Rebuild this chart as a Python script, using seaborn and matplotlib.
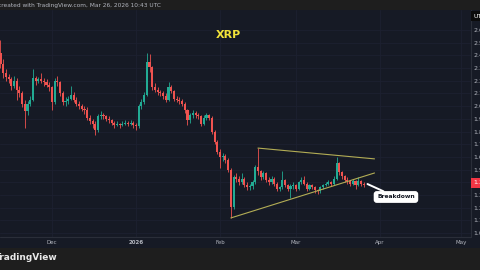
import numpy as np
import pandas as pd
import seaborn as sns
import matplotlib.pyplot as plt

# daily XRP candles, Nov 12 2025 .. Mar 26 2026
first_open = 2.42
closes = [2.33, 2.26, 2.23, 2.21, 2.16, 2.20, 2.13, 2.10, 2.02, 1.96,
          2.02, 2.05, 2.22, 2.20, 2.21, 2.20, 2.19, 2.17, 2.15, 2.03,
          2.20, 2.19, 2.10, 2.03, 2.04, 2.06, 2.09, 2.05, 2.02, 2.00,
          1.98, 1.97, 1.91, 1.88, 1.86, 1.81, 1.92, 1.93, 1.92, 1.90,
          1.89, 1.87, 1.85, 1.86, 1.85, 1.86, 1.87, 1.86, 1.87, 1.85,
          1.84, 2.00, 2.03, 2.09, 2.35, 2.31, 2.15, 2.13, 2.11, 2.10,
          2.08, 2.05, 2.15, 2.12, 2.06, 2.05, 2.04, 2.02, 1.97, 1.89,
          1.93, 1.95, 1.93, 1.92, 1.86, 1.91, 1.93, 1.91, 1.80, 1.72,
          1.64, 1.60, 1.61, 1.58, 1.50, 1.21, 1.44, 1.43, 1.40, 1.43,
          1.38, 1.36, 1.37, 1.40, 1.52, 1.49, 1.44, 1.47, 1.42, 1.40,
          1.43, 1.39, 1.35, 1.36, 1.42, 1.38, 1.35, 1.37, 1.38, 1.35,
          1.40, 1.42, 1.39, 1.35, 1.38, 1.36, 1.34, 1.33, 1.36, 1.38,
          1.39, 1.40, 1.39, 1.43, 1.55, 1.48, 1.45, 1.42, 1.41, 1.39,
          1.41, 1.38, 1.41, 1.39, 1.38]
highs = [2.52, 2.37, 2.29, 2.25, 2.23, 2.24, 2.22, 2.16, 2.12, 2.05,
         2.04, 2.08, 2.29, 2.24, 2.23, 2.26, 2.22, 2.21, 2.19, 2.16,
         2.22, 2.24, 2.20, 2.12, 2.07, 2.08, 2.16, 2.11, 2.07, 2.04,
         2.02, 2.00, 1.99, 1.93, 1.90, 1.88, 1.94, 1.96, 1.95, 1.93,
         1.92, 1.90, 1.88, 1.88, 1.87, 1.88, 1.89, 1.88, 1.89, 1.88,
         1.87, 2.02, 2.06, 2.11, 2.42, 2.41, 2.32, 2.18, 2.15, 2.13,
         2.12, 2.10, 2.19, 2.17, 2.13, 2.08, 2.07, 2.06, 2.03, 1.98,
         1.95, 1.97, 1.96, 1.95, 1.93, 1.93, 1.95, 1.94, 1.92, 1.81,
         1.73, 1.66, 1.63, 1.62, 1.59, 1.51, 1.46, 1.47, 1.45, 1.47,
         1.44, 1.40, 1.39, 1.42, 1.54, 1.67, 1.50, 1.49, 1.48, 1.44,
         1.45, 1.44, 1.40, 1.37, 1.49, 1.43, 1.39, 1.39, 1.40, 1.39,
         1.41, 1.44, 1.45, 1.40, 1.39, 1.39, 1.37, 1.35, 1.37, 1.39,
         1.40, 1.42, 1.41, 1.45, 1.60, 1.56, 1.49, 1.46, 1.44, 1.42,
         1.43, 1.42, 1.44, 1.42, 1.40]
lows = [2.30, 2.22, 2.20, 2.18, 2.13, 2.14, 2.05, 2.07, 1.99, 1.83,
        1.93, 2.00, 2.04, 2.17, 2.18, 2.18, 2.16, 2.15, 2.12, 1.97,
        2.02, 2.16, 2.08, 2.01, 2.00, 2.02, 2.05, 2.03, 2.00, 1.98,
        1.96, 1.94, 1.89, 1.86, 1.83, 1.77, 1.80, 1.90, 1.90, 1.88,
        1.87, 1.85, 1.83, 1.84, 1.83, 1.84, 1.85, 1.84, 1.85, 1.83,
        1.81, 1.83, 1.98, 2.02, 2.08, 2.27, 2.13, 2.11, 2.09, 2.08,
        2.06, 2.03, 2.04, 2.10, 2.04, 2.03, 2.02, 2.00, 1.95, 1.85,
        1.87, 1.91, 1.91, 1.90, 1.84, 1.85, 1.89, 1.89, 1.78, 1.70,
        1.62, 1.51, 1.57, 1.55, 1.48, 1.12, 1.19, 1.40, 1.38, 1.39,
        1.36, 1.34, 1.34, 1.35, 1.39, 1.46, 1.42, 1.43, 1.40, 1.38,
        1.39, 1.37, 1.33, 1.33, 1.35, 1.36, 1.33, 1.28, 1.35, 1.33,
        1.34, 1.39, 1.38, 1.33, 1.34, 1.35, 1.32, 1.31, 1.32, 1.35,
        1.37, 1.38, 1.37, 1.38, 1.42, 1.46, 1.43, 1.40, 1.39, 1.37,
        1.38, 1.35, 1.37, 1.37, 1.36]
start_date = "2025-11-12"

# triangle drawn on the chart
upper_dates = ["2026-02-15", "2026-03-30"]
upper_prices = [1.67, 1.585]
lower_dates = ["2026-02-05", "2026-03-30"]
lower_prices = [1.12, 1.474]

# 1.4 sits under the last-price tag, so it is not labelled
price_ticks = [1.0, 1.1, 1.2, 1.3, 1.5, 1.6, 1.7, 1.8, 1.9, 2.0,
               2.1, 2.2, 2.3, 2.4, 2.5, 2.6]
month_ticks = ["2025-12-01", "2026-01-01", "2026-02-01", "2026-03-01",
               "2026-04-01", "2026-05-01"]
month_labels = ["Dec", "2026", "Feb", "Mar", "Apr", "May"]

BG = "#161a25"
BAR = "#1e1e1e"
UP = "#22ab94"
DOWN = "#f23645"
TXT = "#b2b5be"

df = pd.DataFrame({"close": closes, "high": highs, "low": lows})
df["date"] = pd.date_range(start_date, periods=len(df), freq="D")
df["open"] = [first_open] + closes[:-1]
df["color"] = np.where(df.close >= df.open, UP, "#ef5350")

sns.set_style("dark", rc={"axes.facecolor": BG, "figure.facecolor": BAR})
plt.rcParams["font.family"] = ["DejaVu Sans"]

fig = plt.figure(figsize=(4.8, 2.7), dpi=100)
W, H = 480.0, 270.0

# panel behind chart + axes strips
panel = fig.add_axes([0, 1 - 248 / H, 1, 238 / H])
panel.set_facecolor(BG)
panel.set_xticks([])
panel.set_yticks([])
for s in panel.spines.values():
    s.set_visible(False)

ax = fig.add_axes([0, 1 - 237 / H, 471 / W, 227 / H])
ax.set_facecolor(BG)

t0 = pd.Timestamp(start_date)
ax.set_xlim(t0 - pd.Timedelta(hours=4), t0 + pd.Timedelta(days=173.6))
ax.set_ylim(0.97, 2.757)

# grid
for p in price_ticks + [1.4]:
    ax.axhline(p, color="#1d2130", lw=0.6, zorder=0)
for m in month_ticks:
    ax.axvline(pd.Timestamp(m), color="#1d2130", lw=0.6, zorder=0)

# candles
ax.vlines(df.date, df.low, df.high, colors=df.color, lw=0.6, zorder=2)
body_bottom = np.minimum(df.open, df.close)
body_h = np.maximum(np.abs(df.close - df.open), 0.004)
ax.bar(df.date, body_h, bottom=body_bottom, width=0.78, color=df.color,
       linewidth=0, zorder=3)

# triangle
tri = pd.DataFrame({
    "date": pd.to_datetime(upper_dates + lower_dates),
    "price": upper_prices + lower_prices,
    "line": ["upper", "upper", "lower", "lower"],
})
sns.lineplot(data=tri, x="date", y="price", units="line", estimator=None,
             color="#b3ad55", lw=0.8, ax=ax, zorder=4, legend=False)
ax.set_xlabel("")
ax.set_ylabel("")

# axes styling
for s in ax.spines.values():
    s.set_visible(False)
ax.axhline(0.97, color="#2a2e39", lw=0.8, clip_on=False)
ax.axvline(ax.get_xlim()[1], color="#2a2e39", lw=0.8, clip_on=False)

ax.set_xticks(pd.to_datetime(month_ticks))
ax.set_xticklabels(month_labels)
ax.tick_params(axis="x", length=0, pad=2.5, labelsize=4, colors=TXT)
for lab in ax.get_xticklabels():
    if lab.get_text() == "2026":
        lab.set_fontweight("bold")
ax.yaxis.tick_right()
ax.set_yticks(price_ticks)
ax.set_yticklabels(["%.1f" % p for p in price_ticks])
ax.tick_params(axis="y", length=0, pad=1.5, labelsize=4.5, colors=TXT)

# title
ax.text(pd.Timestamp("2026-02-04"), 2.56, "XRP", color="#f2e33a",
        fontsize=8, fontweight="bold", ha="center", va="center")

# callout
ax.annotate("Breakdown", xy=(pd.Timestamp("2026-03-27 10:00"), 1.387),
            xytext=(pd.Timestamp("2026-04-06 22:00"), 1.285),
            fontsize=4.3, fontweight="bold", color="#131722",
            ha="center", va="center", zorder=6,
            bbox=dict(boxstyle="round,pad=0.45,rounding_size=0.4",
                      fc="white", ec="white"),
            arrowprops=dict(arrowstyle="-", color="white", lw=1.4,
                            shrinkA=0, shrinkB=0))

# last price and UTC tags on the right axis
fig.text(473 / W, 1 - 183 / H, "%.2f" % closes[-1], color="white",
         fontsize=4.5, va="center", ha="left",
         bbox=dict(boxstyle="square,pad=0.35", fc=DOWN, ec="none"))
fig.text(473 / W, 1 - 16 / H, "UTC", color="white", fontsize=4.5,
         va="center", ha="left",
         bbox=dict(boxstyle="square,pad=0.35", fc="#0b0b0b", ec="none"))

# header / footer bars
fig.text(-2 / W, 1 - 5 / H, "created with TradingView.com, Mar 26, 2026 10:43 UTC",
         color=TXT, fontsize=4.2, va="center", ha="left")
fig.text(-5 / W, 1 - 258 / H, "TradingView", color="#e8e8e8", fontsize=6.5,
         fontweight="bold", va="center", ha="left")

fig.savefig("out.png", dpi=100, facecolor=BAR)
